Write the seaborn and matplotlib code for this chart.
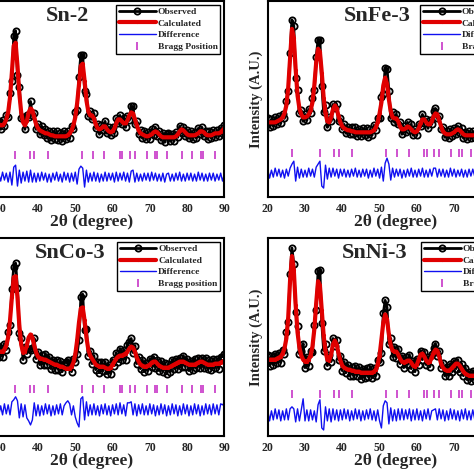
import numpy as np
import matplotlib
matplotlib.use("Agg")
import matplotlib.pyplot as plt
import seaborn as sns

# 2theta grid of the scans (0.5 deg step)
two_theta = np.arange(20, 90.25, 0.5)

# calculated profiles (a.u.), one value per step from 20 to 90 deg
sn2_calc = [70, 70, 70, 70, 71, 71, 72, 73, 75, 78,
            84, 96, 118, 140, 132, 108, 90, 80, 75, 73,
            72, 72, 74, 78, 85, 100, 125, 152, 155, 132,
            104, 85, 75, 72, 76, 85, 89, 87, 80, 73,
            69, 67, 66, 65, 64, 64, 63, 62, 62, 61,
            61, 61, 61, 61, 61, 61, 62, 64, 67, 72,
            80, 94, 113, 132, 134, 117, 97, 86, 82, 82,
            79, 73, 69, 68, 69, 71, 71, 68, 66, 65,
            66, 69, 74, 78, 78, 76, 74, 74, 77, 82,
            85, 84, 78, 72, 67, 64, 63, 62, 61, 61,
            62, 63, 65, 66, 65, 63, 61, 60, 60, 60,
            60, 60, 60, 60, 61, 63, 66, 68, 67, 65,
            63, 62, 62, 62, 62, 63, 64, 66, 66, 65,
            63, 62, 62, 62, 63, 64, 64, 64, 65, 67,
            69]
snfe3_calc = [75, 75, 75, 75, 75, 76, 77, 78, 80, 84,
              92, 110, 140, 169, 160, 128, 102, 89, 83, 80,
              80, 81, 83, 87, 95, 112, 135, 149, 146, 125,
              100, 84, 76, 75, 80, 88, 92, 89, 81, 75,
              71, 69, 68, 67, 67, 66, 66, 65, 65, 65,
              65, 65, 65, 65, 65, 65, 66, 67, 70, 75,
              84, 95, 112, 120, 114, 98, 86, 80, 79, 79,
              76, 71, 68, 68, 69, 71, 70, 68, 66, 65,
              66, 69, 74, 78, 78, 75, 73, 73, 76, 81,
              84, 83, 77, 71, 66, 64, 63, 63, 63, 64,
              65, 67, 68, 67, 65, 63, 62, 62, 62, 62,
              62, 62, 62, 62, 63, 65, 67, 69, 68, 66,
              64, 63, 63, 63, 63, 64, 65, 67, 67, 66,
              64, 63, 63, 63, 64, 65, 65, 65, 66, 67,
              68]
snco3_calc = [80, 80, 80, 80, 81, 81, 82, 83, 85, 89,
              96, 110, 135, 158, 150, 122, 100, 90, 86, 84,
              84, 84, 86, 90, 98, 115, 138, 158, 159, 138,
              110, 91, 83, 84, 90, 98, 101, 98, 90, 83,
              79, 77, 77, 76, 76, 75, 74, 73, 72, 71,
              71, 70, 69, 69, 68, 67, 67, 67, 69, 73,
              81, 95, 113, 127, 128, 115, 98, 86, 80, 77,
              74, 71, 70, 69, 69, 69, 68, 67, 67, 68,
              71, 74, 77, 79, 80, 80, 81, 82, 84, 87,
              89, 88, 84, 78, 74, 71, 70, 69, 69, 70,
              71, 73, 74, 74, 72, 70, 69, 68, 68, 68,
              68, 69, 70, 71, 72, 73, 74, 74, 74, 73,
              72, 71, 71, 71, 71, 72, 73, 74, 74, 73,
              72, 71, 71, 71, 71, 72, 72, 72, 73, 74,
              75]
snni3_calc = [76, 76, 76, 76, 76, 77, 78, 79, 82, 87,
              97, 118, 155, 179, 165, 130, 103, 88, 80, 76,
              74, 74, 76, 80, 89, 106, 132, 154, 150, 125,
              100, 84, 76, 75, 81, 91, 95, 91, 82, 75,
              70, 68, 67, 66, 66, 65, 65, 64, 64, 64,
              63, 63, 63, 63, 63, 63, 63, 64, 66, 71,
              80, 96, 113, 121, 116, 101, 90, 85, 84, 84,
              81, 77, 74, 73, 74, 75, 75, 73, 70, 69,
              71, 76, 81, 82, 79, 75, 73, 74, 78, 83,
              86, 85, 79, 72, 68, 66, 65, 65, 66, 68,
              70, 72, 72, 70, 67, 64, 62, 61, 60, 60,
              60, 60, 60, 61, 62, 64, 67, 69, 68, 66,
              64, 63, 63, 63, 63, 64, 65, 67, 67, 66,
              64, 63, 63, 63, 64, 65, 65, 65, 66, 67,
              68]

# observed - calculated (a.u.)
sn2_resid = [4, -3, 5, -4, 3, -5, 4, -2, 5, -4,
             3, -5, 6, 9, -6, 7, -5, 4, -4, 3,
             -4, 5, -3, 4, -5, 5, -8, 10, 12, -9,
             7, -6, 5, -4, 6, -5, 7, -5, 4, -5,
             4, -4, 5, -3, 4, -5, 3, -5, 4, -3,
             5, -4, 3, -5, 5, -3, 4, -5, 4, -4,
             5, -7, 8, 11, 9, -10, 7, -5, 4, -4,
             5, -4, 4, -5, 3, -4, 5, -4, 4, -3,
             4, -5, 5, -4, 4, -3, 5, -4, 4, -5,
             6, 7, -5, 4, -4, 3, -4, 4, -3, 4,
             -4, 5, -3, 4, -4, 3, -4, 4, -5, 3,
             4, -4, 3, -4, 4, -3, 5, -4, 3, -4,
             4, -3, 4, -4, 3, -4, 5, -3, 4, -4,
             3, -4, 4, -3, 4, -4, 3, -3, 4, -4,
             3]
snfe3_resid = [4, -5, 3, -4, 5, -3, 4, -4, 3, -5,
               4, -3, 5, 9, 12, -8, 6, -5, 4, -4,
               3, -4, 5, -3, 4, -4, 6, 9, 12, -13,
               -15, 8, -6, 5, -4, 5, -3, 4, -5, 4,
               -3, 4, -4, 3, -4, 4, -3, 5, -4, 3,
               -4, 4, -3, 4, -5, 3, -4, 5, -3, 4,
               -5, 6, -8, 10, 15, 9, -7, 5, -4, 4,
               -3, 4, -5, 3, -4, 4, -3, 5, -4, 3,
               -4, 4, -3, 5, -4, 3, -4, 4, -3, 5,
               5, -4, 4, -3, 4, -4, 3, -4, 5, -3,
               4, -4, 3, -3, 4, -4, 3, -4, 4, -3,
               4, -3, 3, -4, 4, -3, 4, -4, 3, -3,
               4, -4, 3, -3, 4, -3, 4, -4, 3, -4,
               4, -3, 3, -4, 4, -3, 4, -4, 3, -3,
               4]
snco3_resid = [5, -5, 4, -6, 5, -4, 6, -5, 4, -5,
               5, -4, 6, 9, 11, -9, 7, -6, 5, -5,
               4, -5, 6, -4, 5, -5, 8, 10, 13, 9,
               -8, 6, -7, 5, -8, -11, -15, -10, 7, -6,
               5, -6, 4, -5, 6, -4, 5, -6, 4, -5,
               5, -4, 6, -5, 4, 7, 9, 6, -5, 4,
               -7, -13, -17, 11, 13, -10, 8, -6, 5, -5,
               6, -5, 4, -6, 5, -4, 6, -5, 4, -6,
               5, -4, 6, -5, 7, -4, 5, -6, 7, 7,
               8, -5, 6, -6, 5, -4, 6, -5, 4, -5,
               6, -4, 5, -6, 4, -5, 6, -4, 5, -6,
               4, -5, 6, -4, 5, -6, 4, -5, 6, -4,
               5, -6, 4, -5, 6, -4, 5, -6, 4, -5,
               6, -4, 5, -5, 6, -4, 5, -5, 6, 5,
               7]
snni3_resid = [5, -6, 4, -5, 6, -4, 5, -6, 4, -5,
               6, -5, 6, 8, 6, -7, 6, -6, 5, 16,
               -6, 5, -6, 5, -5, 4, -7, 10, 15, -13,
               -15, 8, -6, 6, -7, 6, -5, 5, -6, 5,
               -5, 6, -4, 5, -6, 4, -5, 6, -4, 5,
               -6, 4, -5, 5, -4, 6, -5, 4, -6, 5,
               -6, -13, 9, 14, 12, -9, 7, -6, 5, -6,
               6, -5, 6, -5, 5, -4, 6, -6, 5, -5,
               6, -5, 4, -6, 5, -4, 6, -5, 4, 5,
               6, -5, 6, -4, 5, -6, 4, -5, 6, -4,
               5, -5, 4, -6, 5, -4, 6, -5, 4, -5,
               5, -4, 6, -5, 4, -5, 6, -4, 5, -5,
               4, -6, 5, -4, 5, -5, 6, -4, 5, -4,
               5, -5, 4, -6, 5, -4, 5, -5, 4, -4,
               5]

# SnO2 reflections (deg)
bragg_pos = [26.6, 33.9, 37.9, 39.0, 42.6, 51.8, 54.8, 57.8, 61.9, 62.6, 64.7,
             66.0, 69.2, 71.3, 72.0, 74.5, 78.7, 81.2, 83.7, 84.2, 87.4, 89.8]

names = ["Sn-2", "SnFe-3", "SnCo-3", "SnNi-3"]
calcs = [sn2_calc, snfe3_calc, snco3_calc, snni3_calc]
resids = [sn2_resid, snfe3_resid, snco3_resid, snni3_resid]
bragg_level = [42, 44, 47, 42]
diff_level = [20, 24, 26, 21]
bragg_labels = ["Bragg Position", "Bragg Position", "Bragg position", "Bragg position"]

sns.set_style("white")
plt.rcParams['font.family'] = ['Liberation Serif', 'DejaVu Serif']
plt.rcParams['font.weight'] = 'bold'

fig = plt.figure(figsize=(4.74, 4.74), dpi=100)
# the picture is a crop of a bigger figure, so panels run past the edges
rects = [[-0.0772, 0.5844, 0.5506, 0.4135],
         [0.5648, 0.5844, 0.5506, 0.4135],
         [-0.0772, 0.0802, 0.5506, 0.4177],
         [0.5648, 0.0802, 0.5506, 0.4177]]
title_x = [0.40, 0.42, 0.41, 0.41]

for i in range(4):
    ax = fig.add_axes(rects[i])
    calc = np.array(calcs[i], dtype=float)
    resid = np.array(resids[i], dtype=float)
    obs = calc + resid

    sns.lineplot(x=two_theta, y=obs, ax=ax, color='black', lw=2.0, marker='o', ms=4.5,
                 mfc='none', mec='black', mew=1.3, label='Observed')
    sns.lineplot(x=two_theta, y=calc, ax=ax, color='#e00000', lw=3.0, marker='.', ms=3,
                 mec='#e00000', label='Calculated')
    sns.lineplot(x=two_theta, y=resid + diff_level[i], ax=ax, color='#1010f0', lw=1.0,
                 label='Difference')
    sns.scatterplot(x=bragg_pos, y=[bragg_level[i]] * len(bragg_pos), ax=ax, marker='|',
                    color='#cc44cc', s=28, linewidth=1.3, label=bragg_labels[i])

    ax.set_xlim(20, 90)
    ax.set_ylim(0, 197)
    ax.set_xticks(range(20, 91, 10))
    ax.set_yticks([])
    ax.tick_params(axis='x', direction='in', length=4, width=1.2, pad=4, labelsize=8.5)
    for lab in ax.get_xticklabels():
        lab.set_fontweight('bold')
    for sp in ax.spines.values():
        sp.set_linewidth(1.5)
        sp.set_color('black')

    ax.set_xlabel("2θ (degree)", fontsize=12.5, fontweight='bold')
    ax.xaxis.set_label_coords(0.49, -0.085)
    ax.set_ylabel("Intensity (A.U.)", fontsize=10.5, fontweight='bold')
    ax.yaxis.set_label_coords(-0.018, 0.5)

    ax.text(title_x[i], 0.925, names[i], transform=ax.transAxes, ha='center', va='center',
            fontsize=16, fontweight='bold')

    leg = ax.legend(loc='upper right', bbox_to_anchor=(0.985, 0.98), borderaxespad=0,
                    frameon=True, fancybox=False, edgecolor='black', framealpha=1,
                    prop={'weight': 'bold', 'size': 6.8}, handlelength=3.9,
                    handletextpad=0.2, labelspacing=0.3, borderpad=0.3)
    leg.get_frame().set_linewidth(1.0)

fig.savefig("out.png", dpi=100)
